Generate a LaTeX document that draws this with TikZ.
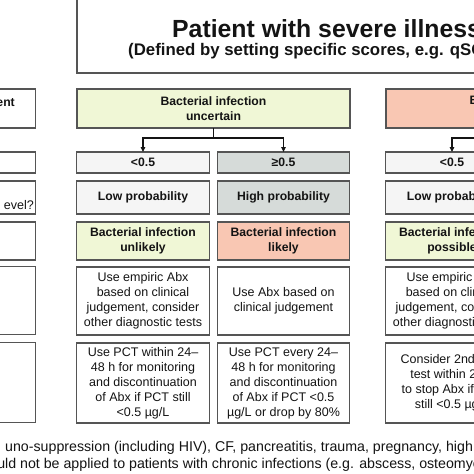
\documentclass[tikz,border=0pt]{standalone}
\usepackage{fontspec}
\setmainfont{Liberation Sans}
\usetikzlibrary{arrows.meta}
\definecolor{bgreen}{RGB}{240,247,214}
\definecolor{bsalmon}{RGB}{249,199,179}
\definecolor{bgray}{RGB}{214,219,217}
\definecolor{blight}{RGB}{245,245,245}
\definecolor{edgegray}{RGB}{85,85,85}
\definecolor{ink}{RGB}{20,20,20}
\begin{document}
\begin{tikzpicture}[x=1pt,y=-1pt,
  every node/.style={text=ink},
  box/.style={draw=edgegray, line width=1.1pt, inner sep=0pt, outer sep=0pt,
    minimum width=132.5pt, align=center},
  boldtxt/.style={font=\fontsize{12.2}{15}\selectfont\bfseries},
  regtxt/.style={font=\fontsize{12.5}{15}\selectfont},
  rowA/.style={box, boldtxt, minimum height=39pt},
  rowB/.style={box, boldtxt, minimum height=21pt},
  rowC/.style={box, boldtxt, minimum height=33pt},
  rowD/.style={box, boldtxt, minimum height=38pt},
  rowE/.style={box, regtxt, minimum height=68pt},
  rowF/.style={box, regtxt, minimum height=80pt},
  foottxt/.style={anchor=base west, font=\fontsize{14.2}{17}\selectfont, inner sep=0pt},
  arr/.style={draw=ink, line width=1.2pt, -{Triangle[length=5pt,width=4.5pt]}},
]
\useasboundingbox (0,0) rectangle (474,474);
\clip (0,0) rectangle (474,474);
\fill[white] (0,0) rectangle (474,474);

% top box
\draw[draw=edgegray, line width=1.1pt] (77,-10) rectangle (620,73);
\node[anchor=base west, font=\fontsize{24.8}{28}\selectfont\bfseries, inner sep=0pt] (title) at (172,37) {Patient with severe illness};
\node[anchor=base west, font=\fontsize{16.8}{20}\selectfont\bfseries, inner sep=0pt] (subtitle) at (128,55) {(Defined by setting specific scores, e.g. qSOFA)};

% left (clipped) column
\node[rowA] (lA) at (-31,108.5) {};
\node[rowB, fill=white] (lB) at (-31,162.5) {};
\node[rowC, fill=white] (lC) at (-31,197.5) {};
\node[rowD] (lD) at (-31,241) {};
\node[rowE] (lE) at (-31,300.5) {};
\node[rowF] (lF) at (-31,382.5) {};
\node[anchor=base east, boldtxt, inner sep=0pt] (lAt) at (15,106) {ent};
\node[anchor=base east, regtxt, inner sep=0pt] (lCt) at (34,209) {evel?};

% middle group
\node[rowA, fill=bgreen, minimum width=273pt] (unc) at (213.5,108.5) {Bacterial infection\\uncertain};
\node[rowB, fill=blight] (m1B) at (143,162.5) {<0.5};
\node[rowB, fill=bgray] (m2B) at (283.5,162.5) {≥0.5};
\node[rowC, fill=blight] (m1C) at (143,197.5) {Low probability};
\node[rowC, fill=bgray] (m2C) at (283.5,197.5) {High probability};
\node[rowD, fill=bgreen] (m1D) at (143,241) {Bacterial infection\\unlikely};
\node[rowD, fill=bsalmon] (m2D) at (283.5,241) {Bacterial infection\\likely};
\node[rowE] (m1E) at (143,301) {Use empiric Abx\\based on clinical\\judgement, consider\\other diagnostic tests};
\node[rowE] (m2E) at (283.5,301) {Use Abx based on\\clinical judgement};
\node[rowF] (m1F) at (143,383) {Use PCT within 24–\\48 h for monitoring\\and discontinuation\\of Abx if PCT still\\<0.5 µg/L};
\node[rowF] (m2F) at (283.5,383) {Use PCT every 24–\\48 h for monitoring\\and discontinuation\\of Abx if PCT <0.5\\µg/L or drop by 80\%};

% right group (clipped)
\node[rowA, fill=bsalmon, minimum width=273pt] (rtop) at (522.5,108.5) {Bacterial infection\\highly likely};
\node[rowB, fill=blight] (r1B) at (452,162.5) {<0.5};
\node[rowC, fill=blight] (r1C) at (452,197.5) {Low probability};
\node[rowD, fill=bgreen] (r1D) at (452,241) {Bacterial infection\\possible};
\node[rowE] (r1E) at (452,301) {Use empiric Abx\\based on clinical\\judgement, consider\\other diagnostic tests};
\node[rowF] (r1F) at (452,383) {Consider 2nd PCT\\test within 24 h\\to stop Abx if PCT\\still <0.5 µg/L};

% connectors
\draw[arr] (unc.south) -- ++(0,10) -| (m1B.north);
\draw[arr] (unc.south) -- ++(0,10) -| (m2B.north);
\draw[arr] (rtop.south) -- ++(0,10) -| (r1B.north);

% footnote
\node[foottxt] (foot1) at (5,451) {uno-suppression (including HIV), CF, pancreatitis, trauma, pregnancy, high};
\node[foottxt] (foot2) at (-25.8,468) {should not be applied to patients with chronic infections (e.g. abscess, osteomyelitis)};
\end{tikzpicture}
\end{document}
